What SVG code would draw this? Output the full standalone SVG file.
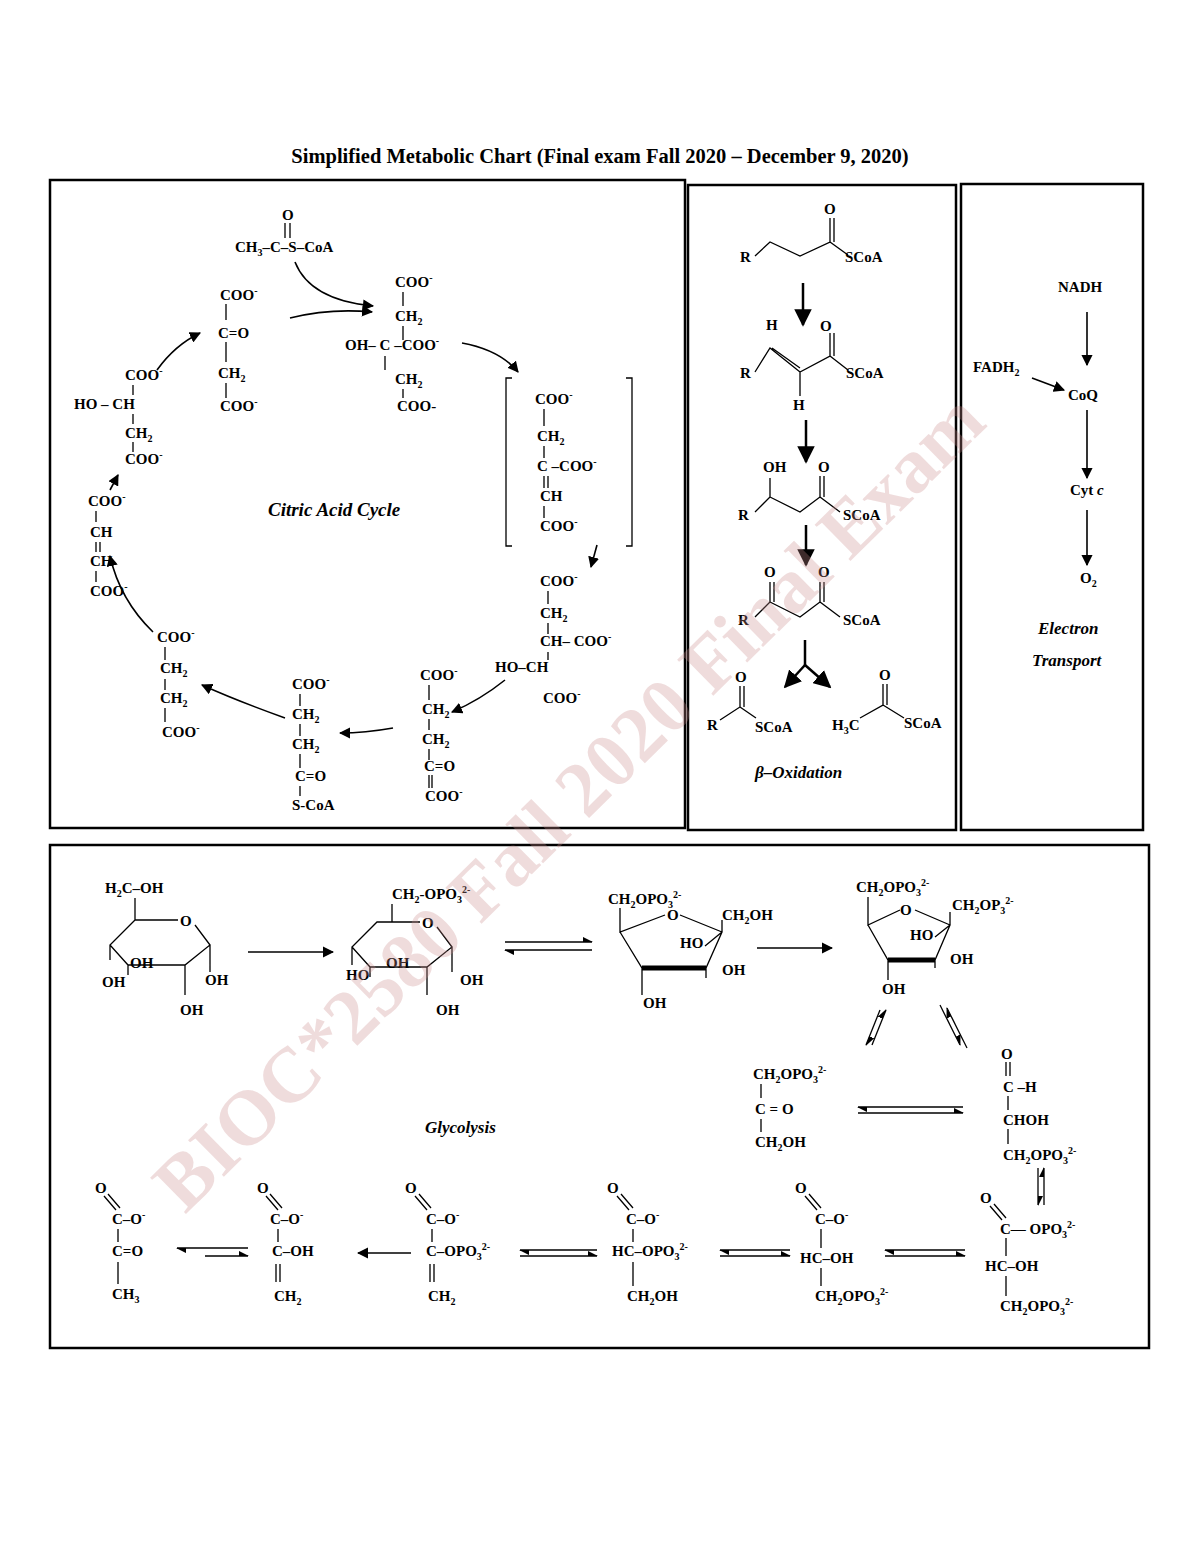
<svg xmlns="http://www.w3.org/2000/svg" width="1200" height="1553" viewBox="0 0 1200 1553">
<defs>
<marker id="ah" viewBox="0 0 10 10" refX="9" refY="5" markerWidth="7" markerHeight="7" orient="auto-start-reverse"><path d="M0,0 L10,5 L0,10 z" fill="#000"/></marker>
<marker id="hh" viewBox="0 0 10 10" refX="9" refY="5" markerWidth="8" markerHeight="8" orient="auto"><path d="M0,0 L10,5 L0,5 z" fill="#000"/></marker>
</defs>
<style>
text{font-family:"Liberation Serif",serif;font-weight:bold;font-size:15px;fill:#000}
.s{font-size:10px}
.it{font-style:italic;font-size:19px}
.box{fill:none;stroke:#000;stroke-width:2.5}
.b{stroke:#000;stroke-width:1.3;fill:none}
.ar{stroke:#000;stroke-width:1.6;fill:none;marker-end:url(#ah)}
.eq{stroke:#000;stroke-width:1.3;fill:none;marker-end:url(#hh)}
</style>
<rect width="1200" height="1553" fill="#fff"/>
<text x="600" y="163" text-anchor="middle" style="font-size:20.5px">Simplified Metabolic Chart (Final exam Fall 2020 – December 9, 2020)</text>
<g id="boxes">
<rect class="box" x="50" y="180" width="635" height="648"/>
<rect class="box" x="688" y="185" width="268" height="645"/>
<rect class="box" x="961" y="184" width="182" height="646"/>
<rect class="box" x="50" y="845" width="1099" height="503"/>
</g>
<g id="citric">
<text x="282" y="220">O</text>
<text x="235" y="252">CH<tspan class="s" dy="4">3</tspan><tspan dy="-4">–C–S–CoA</tspan></text>
<text x="220" y="300">COO<tspan class="s" dy="-6">-</tspan></text>
<text x="218" y="338">C=O</text>
<text x="218" y="378">CH<tspan class="s" dy="4">2</tspan></text>
<text x="220" y="411">COO<tspan class="s" dy="-6">-</tspan></text>
<text x="395" y="287">COO<tspan class="s" dy="-6">-</tspan></text>
<text x="395" y="321">CH<tspan class="s" dy="4">2</tspan></text>
<text x="345" y="350">OH– C –COO<tspan class="s" dy="-6">-</tspan></text>
<text x="395" y="384">CH<tspan class="s" dy="4">2</tspan></text>
<text x="397" y="411">COO-</text>
<text x="535" y="404">COO<tspan class="s" dy="-6">-</tspan></text>
<text x="537" y="441">CH<tspan class="s" dy="4">2</tspan></text>
<text x="537" y="471">C –COO<tspan class="s" dy="-6">-</tspan></text>
<text x="540" y="501">CH</text>
<text x="540" y="531">COO<tspan class="s" dy="-6">-</tspan></text>
<text x="540" y="586">COO<tspan class="s" dy="-6">-</tspan></text>
<text x="540" y="618">CH<tspan class="s" dy="4">2</tspan></text>
<text x="540" y="646">CH– COO<tspan class="s" dy="-6">-</tspan></text>
<text x="495" y="672">HO–CH</text>
<text x="543" y="703">COO<tspan class="s" dy="-6">-</tspan></text>
<text x="420" y="680">COO<tspan class="s" dy="-6">-</tspan></text>
<text x="422" y="714">CH<tspan class="s" dy="4">2</tspan></text>
<text x="422" y="744">CH<tspan class="s" dy="4">2</tspan></text>
<text x="424" y="771">C=O</text>
<text x="425" y="801">COO<tspan class="s" dy="-6">-</tspan></text>
<text x="292" y="689">COO<tspan class="s" dy="-6">-</tspan></text>
<text x="292" y="719">CH<tspan class="s" dy="4">2</tspan></text>
<text x="292" y="749">CH<tspan class="s" dy="4">2</tspan></text>
<text x="295" y="781">C=O</text>
<text x="292" y="810">S-CoA</text>
<text x="157" y="642">COO<tspan class="s" dy="-6">-</tspan></text>
<text x="160" y="673">CH<tspan class="s" dy="4">2</tspan></text>
<text x="160" y="703">CH<tspan class="s" dy="4">2</tspan></text>
<text x="162" y="737">COO<tspan class="s" dy="-6">-</tspan></text>
<text x="88" y="506">COO<tspan class="s" dy="-6">-</tspan></text>
<text x="90" y="537">CH</text>
<text x="90" y="566">CH</text>
<text x="90" y="596">COO<tspan class="s" dy="-6">-</tspan></text>
<text x="125" y="380">COO<tspan class="s" dy="-6">-</tspan></text>
<text x="74" y="409">HO – CH</text>
<text x="125" y="438">CH<tspan class="s" dy="4">2</tspan></text>
<text x="125" y="464">COO<tspan class="s" dy="-6">-</tspan></text>
<text x="268" y="516" class="it">Citric Acid Cycle</text>
<path class="b" d="M285,223V238M290,223V238M226,304V320M226,342V362M226,383V398M403,292V306M403,326V340M385,356V370M403,389V398M544,409V426M544,446V458M544,476V488M548,476V488M544,506V518M512,378H506V546H512M626,378H632V546H626M548,591V604M548,623V634M548,652V660M429,685V700M429,719V730M429,749V760M429,775V788M432,775V788M300,694V706M300,724V736M300,754V768M300,786V796M165,647V660M165,679V690M165,708V722M96,511V522M96,542V552M100,542V552M96,571V582M133,385V395M133,414V424M133,442V452"/>
<path class="ar" d="M295,262 Q310,300 373,306"/>
<path class="ar" d="M290,318 Q330,308 372,312"/>
<path class="ar" d="M462,343 Q500,350 518,372"/>
<path class="ar" d="M597,545 L591,567"/>
<path class="ar" d="M505,680 Q480,700 452,712"/>
<path class="ar" d="M393,728 Q365,733 340,733"/>
<path class="ar" d="M285,718 Q235,700 202,685"/>
<path class="ar" d="M153,632 Q120,600 110,556"/>
<path class="ar" d="M110,490 L118,475"/>
<path class="ar" d="M157,370 Q175,345 200,333"/>
</g>
<g id="beta">
<path class="b" d="M755,256L770,242L800,256L830,242V218M834,242V218M830,242L848,255"/>
<text x="824" y="214">O</text><text x="740" y="262">R</text><text x="845" y="262">SCoA</text>
<path class="ar" style="stroke-width:2.5" d="M803,283V325"/>
<path class="b" d="M755,372L770,348L800,372L830,356V333M834,356V333M830,356L848,370M772,348L800,368M800,372V396"/>
<text x="766" y="330">H</text><text x="820" y="331">O</text><text x="740" y="378">R</text><text x="846" y="378">SCoA</text><text x="793" y="410">H</text>
<path class="ar" style="stroke-width:2.5" d="M806,420V462"/>
<path class="b" d="M755,512L770,497V478M770,497L800,512L820,497V476M824,497V476M820,497L840,512"/>
<text x="763" y="472">OH</text><text x="818" y="472">O</text><text x="738" y="520">R</text><text x="843" y="520">SCoA</text>
<path class="ar" style="stroke-width:2.5" d="M806,525V565"/>
<path class="b" d="M755,617L770,602V582M774,602V582M770,602L800,617L820,602V582M824,602V582M820,602L840,617"/>
<text x="764" y="577">O</text><text x="818" y="577">O</text><text x="738" y="625">R</text><text x="843" y="625">SCoA</text>
<path class="b" style="stroke-width:2.5" d="M805,640V665"/>
<path class="ar" style="stroke-width:2.5" d="M805,665L785,687"/>
<path class="ar" style="stroke-width:2.5" d="M805,665L830,687"/>
<path class="b" d="M720,720L740,707V686M744,707V686M740,707L756,718"/>
<text x="735" y="682">O</text><text x="707" y="730">R</text><text x="755" y="732">SCoA</text>
<path class="b" d="M860,718L883,705V684M887,705V684M883,705L904,718"/>
<text x="879" y="680">O</text><text x="832" y="730">H<tspan class="s" dy="4">3</tspan><tspan dy="-4">C</tspan></text><text x="904" y="728">SCoA</text>
<text x="755" y="778" class="it" style="font-size:17px">β–Oxidation</text>
</g>
<g id="et">
<text x="1058" y="292">NADH</text>
<path class="ar" d="M1087,312V365"/>
<text x="973" y="372">FADH<tspan class="s" dy="4">2</tspan></text>
<path class="ar" d="M1032,378L1064,390"/>
<text x="1068" y="400">CoQ</text>
<path class="ar" d="M1087,410V478"/>
<text x="1070" y="495">Cyt <tspan font-style="italic">c</tspan></text>
<path class="ar" d="M1087,510V565"/>
<text x="1080" y="583">O<tspan class="s" dy="4">2</tspan></text>
<text x="1038" y="634" class="it" style="font-size:17px">Electron</text>
<text x="1032" y="666" class="it" style="font-size:17px">Transport</text>
</g>
<g id="glycolysis">
<text x="105" y="893">H<tspan class="s" dy="4">2</tspan><tspan dy="-4">C–OH</tspan></text>
<path class="b" d="M135,898V920L178,920M195,925L210,945L185,965L128,965L110,945L135,920M135,920V898M128,965V975M110,945V960M210,945V972M185,965V995"/>
<text x="180" y="926">O</text><text x="130" y="968">OH</text><text x="102" y="987">OH</text><text x="205" y="985">OH</text><text x="180" y="1015">OH</text>
<path class="ar" d="M248,952H333"/>
<text x="392" y="899">CH<tspan class="s" dy="4">2</tspan><tspan dy="-4">-OPO</tspan><tspan class="s" dy="4">3</tspan><tspan class="s" dy="-10">2-</tspan></text>
<path class="b" d="M392,904V922L420,922M437,927L452,947L427,967L370,967L352,947L377,922L392,922M370,967V977M352,947V965M452,947V972M427,967V995"/>
<text x="422" y="928">O</text><text x="386" y="968">OH</text><text x="346" y="980">HO</text><text x="460" y="985">OH</text><text x="436" y="1015">OH</text>
<path class="eq" d="M505,942H592"/><path class="eq" d="M592,950H505"/>
<text x="608" y="904">CH<tspan class="s" dy="4">2</tspan><tspan dy="-4">OPO</tspan><tspan class="s" dy="4">3</tspan><tspan class="s" dy="-10">2-</tspan></text>
<path class="b" d="M620,908V932L665,915M680,915L722,932L706,968L642,968L620,932M722,932V920M706,968V978M642,968V995M722,932L705,946"/>
<path d="M642,968L706,968" stroke="#000" stroke-width="5"/>
<text x="667" y="920">O</text><text x="722" y="920">CH<tspan class="s" dy="4">2</tspan><tspan dy="-4">OH</tspan></text><text x="680" y="948">HO</text><text x="722" y="975">OH</text><text x="643" y="1008">OH</text>
<path class="ar" d="M757,948H832"/>
<text x="856" y="892">CH<tspan class="s" dy="4">2</tspan><tspan dy="-4">OPO</tspan><tspan class="s" dy="4">3</tspan><tspan class="s" dy="-10">2-</tspan></text>
<path class="b" d="M868,897V925L900,910M915,910L950,925L935,960L888,960L868,925M950,925V912M935,960V968M888,960V980M950,925L935,937"/>
<path d="M888,960L935,960" stroke="#000" stroke-width="5"/>
<text x="900" y="915">O</text><text x="952" y="910">CH<tspan class="s" dy="4">2</tspan><tspan dy="-4">OP</tspan><tspan class="s" dy="4">3</tspan><tspan class="s" dy="-10">2-</tspan></text><text x="910" y="940">HO</text><text x="950" y="964">OH</text><text x="882" y="994">OH</text>
<path class="eq" d="M880,1010L866,1045"/><path class="eq" d="M872,1045L886,1010"/>
<path class="eq" d="M940,1005L960,1045"/><path class="eq" d="M967,1048L947,1008"/>
<text x="753" y="1079">CH<tspan class="s" dy="4">2</tspan><tspan dy="-4">OPO</tspan><tspan class="s" dy="4">3</tspan><tspan class="s" dy="-10">2-</tspan></text>
<text x="755" y="1114">C = O</text>
<text x="755" y="1147">CH<tspan class="s" dy="4">2</tspan><tspan dy="-4">OH</tspan></text>
<path class="b" d="M761,1084V1098M761,1119V1132"/>
<path class="eq" d="M963,1107H858"/><path class="eq" d="M858,1113H963"/>
<text x="1001" y="1059">O</text><text x="1003" y="1092">C –H</text><text x="1003" y="1125">CHOH</text>
<text x="1003" y="1160">CH<tspan class="s" dy="4">2</tspan><tspan dy="-4">OPO</tspan><tspan class="s" dy="4">3</tspan><tspan class="s" dy="-10">2-</tspan></text>
<path class="b" d="M1006,1062V1076M1010,1062V1076M1008,1096V1110M1008,1129V1144"/>
<path class="eq" d="M1038,1168V1205"/><path class="eq" d="M1044,1205V1168"/>
<text x="980" y="1203">O</text><text x="1000" y="1234">C— OPO<tspan class="s" dy="4">3</tspan><tspan class="s" dy="-10">2-</tspan></text>
<text x="985" y="1271">HC–OH</text>
<text x="1000" y="1311">CH<tspan class="s" dy="4">2</tspan><tspan dy="-4">OPO</tspan><tspan class="s" dy="4">3</tspan><tspan class="s" dy="-10">2-</tspan></text>
<path class="b" d="M990,1206L1002,1220M994,1204L1006,1218M1006,1238V1256M1006,1276V1296"/>
<path class="eq" d="M965,1250H885"/><path class="eq" d="M885,1256H965"/>
<text x="795" y="1193">O</text><text x="815" y="1224">C–O<tspan class="s" dy="-6">-</tspan></text>
<text x="800" y="1263">HC–OH</text>
<text x="815" y="1301">CH<tspan class="s" dy="4">2</tspan><tspan dy="-4">OPO</tspan><tspan class="s" dy="4">3</tspan><tspan class="s" dy="-10">2-</tspan></text>
<path class="b" d="M805,1196L817,1210M809,1194L821,1208M821,1229V1248M821,1268V1286"/>
<path class="eq" d="M790,1250H720"/><path class="eq" d="M720,1256H790"/>
<text x="607" y="1193">O</text><text x="626" y="1224">C–O<tspan class="s" dy="-6">-</tspan></text>
<text x="612" y="1256">HC–OPO<tspan class="s" dy="4">3</tspan><tspan class="s" dy="-10">2-</tspan></text>
<text x="627" y="1301">CH<tspan class="s" dy="4">2</tspan><tspan dy="-4">OH</tspan></text>
<path class="b" d="M617,1196L629,1210M621,1194L633,1208M633,1229V1242M633,1262V1286"/>
<path class="eq" d="M597,1250H520"/><path class="eq" d="M520,1256H597"/>
<text x="405" y="1193">O</text><text x="426" y="1224">C–O<tspan class="s" dy="-6">-</tspan></text>
<text x="426" y="1256">C–OPO<tspan class="s" dy="4">3</tspan><tspan class="s" dy="-10">2-</tspan></text>
<text x="428" y="1301">CH<tspan class="s" dy="4">2</tspan></text>
<path class="b" d="M415,1196L427,1210M419,1194L431,1208M432,1229V1242M430,1264V1282M434,1264V1282"/>
<path class="ar" d="M411,1253H358"/>
<text x="257" y="1193">O</text><text x="270" y="1224">C–O<tspan class="s" dy="-6">-</tspan></text>
<text x="272" y="1256">C–OH</text>
<text x="274" y="1301">CH<tspan class="s" dy="4">2</tspan></text>
<path class="b" d="M266,1196L278,1210M270,1194L282,1208M278,1229V1242M276,1264V1282M280,1264V1282"/>
<path class="eq" d="M248,1248H177"/><path class="eq" d="M205,1256H248"/>
<text x="95" y="1193">O</text><text x="112" y="1224">C–O<tspan class="s" dy="-6">-</tspan></text>
<text x="112" y="1256">C=O</text>
<text x="112" y="1299">CH<tspan class="s" dy="4">3</tspan></text>
<path class="b" d="M104,1196L116,1210M108,1194L120,1208M118,1229V1242M118,1262V1284"/>
<text x="425" y="1133" class="it" style="font-size:17px">Glycolysis</text>
</g>
<text x="0" y="0" transform="translate(185,1215) rotate(-44.5)" style="font-size:78px;fill:#c98a8a;fill-opacity:0.3">BIOC*2580 Fall 2020 Final Exam</text>
</svg>
